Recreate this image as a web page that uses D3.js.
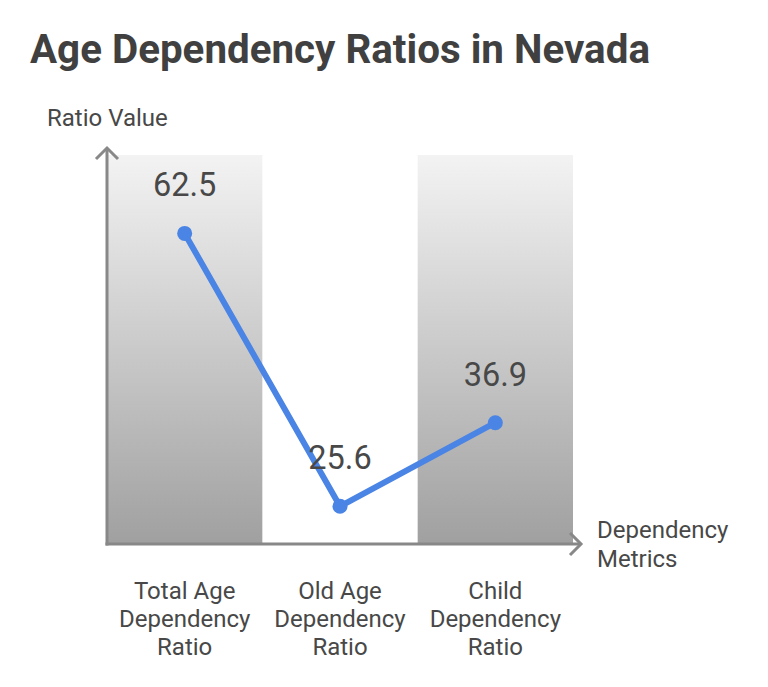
<!DOCTYPE html>
<html>
<head>
<meta charset="utf-8">
<script src="https://cdn.jsdelivr.net/npm/d3@7"></script>
<style>
  body { margin: 0; background: #fff; }
  text { font-family: Roboto, "Noto Sans", sans-serif; fill: #484848; }
</style>
</head>
<body>
<svg id="chart" width="768" height="687"></svg>
<script>
// chart data
var categories = ["Total Age Dependency Ratio", "Old Age Dependency Ratio", "Child Dependency Ratio"];
var categoryLines = [["Total Age", "Dependency", "Ratio"], ["Old Age", "Dependency", "Ratio"], ["Child", "Dependency", "Ratio"]];
var values = [62.5, 25.6, 36.9];
var yDomain = [20.5, 73.1];
var shadedBands = [0, 2];

var svg = d3.select("#chart");

// scales
var x = d3.scaleBand().domain(categories).range([107, 573]).padding(0);
var y = d3.scaleLinear().domain(yDomain).range([544, 155]);

// gradient for the shaded columns
var grad = svg.append("defs").append("linearGradient")
    .attr("id", "bandGrad")
    .attr("x1", 0).attr("y1", 0).attr("x2", 0).attr("y2", 1);
grad.append("stop").attr("offset", "0%").attr("stop-color", "#f3f3f3");
grad.append("stop").attr("offset", "100%").attr("stop-color", "#a0a0a0");

svg.selectAll("rect.band")
    .data(shadedBands)
    .enter()
    .append("rect")
    .attr("class", "band")
    .attr("x", function(d) { return x(categories[d]); })
    .attr("y", y(yDomain[1]))
    .attr("width", x.bandwidth())
    .attr("height", y(yDomain[0]) - y(yDomain[1]))
    .attr("fill", "url(#bandGrad)");

// axes with arrow heads
var axisColor = "#888";
var x0 = x.range()[0], x1 = x.range()[1];
svg.append("line")
    .attr("x1", x0).attr("y1", y(yDomain[0]) + 1.5)
    .attr("x2", x0).attr("y2", 148)
    .attr("stroke", axisColor).attr("stroke-width", 3);
svg.append("path")
    .attr("d", "M" + (x0 - 11) + "," + 159 + "L" + x0 + "," + 148 + "L" + (x0 + 11) + "," + 159)
    .attr("fill", "none").attr("stroke", axisColor).attr("stroke-width", 3);
svg.append("line")
    .attr("x1", x0 - 1.5).attr("y1", y(yDomain[0]))
    .attr("x2", x1 + 8).attr("y2", y(yDomain[0]))
    .attr("stroke", axisColor).attr("stroke-width", 3);
svg.append("path")
    .attr("d", "M" + (x1 - 3) + "," + (y(yDomain[0]) - 11) + "L" + (x1 + 8) + "," + y(yDomain[0]) + "L" + (x1 - 3) + "," + (y(yDomain[0]) + 11))
    .attr("fill", "none").attr("stroke", axisColor).attr("stroke-width", 3);

// the line and points
var line = d3.line()
    .x(function(d, i) { return x(categories[i]) + x.bandwidth() / 2; })
    .y(function(d) { return y(d); });

svg.append("path")
    .datum(values)
    .attr("d", line)
    .attr("fill", "none")
    .attr("stroke", "#4a84e4")
    .attr("stroke-width", 6)
    .attr("stroke-linejoin", "round");

svg.selectAll("circle.pt")
    .data(values)
    .enter()
    .append("circle")
    .attr("class", "pt")
    .attr("cx", function(d, i) { return x(categories[i]) + x.bandwidth() / 2; })
    .attr("cy", function(d) { return y(d); })
    .attr("r", 7.5)
    .attr("fill", "#4a84e4");

// value labels
svg.selectAll("text.val")
    .data(values)
    .enter()
    .append("text")
    .attr("class", "val")
    .attr("x", function(d, i) { return x(categories[i]) + x.bandwidth() / 2; })
    .attr("y", function(d) { return y(d) - 37; })
    .attr("text-anchor", "middle")
    .style("font-size", "32.5px")
    .text(function(d) { return d; });

// category labels
var catLabels = svg.selectAll("text.cat")
    .data(categoryLines)
    .enter()
    .append("text")
    .attr("class", "cat")
    .attr("text-anchor", "middle")
    .style("font-size", "24px");
catLabels.selectAll("tspan")
    .data(function(d, i) { return d.map(function(t) { return {t: t, i: i}; }); })
    .enter()
    .append("tspan")
    .attr("x", function(d) { return x(categories[d.i]) + x.bandwidth() / 2; })
    .attr("y", function(d, j) { return 598.5 + j * 28.3; })
    .text(function(d) { return d.t; });

// axis titles
svg.append("text")
    .attr("x", 47).attr("y", 126)
    .style("font-size", "24px")
    .text("Ratio Value");

var xTitle = svg.append("text").style("font-size", "24px");
xTitle.append("tspan").attr("x", 597).attr("y", 538).text("Dependency");
xTitle.append("tspan").attr("x", 597).attr("y", 566.5).text("Metrics");

// chart title
svg.append("text")
    .attr("x", 30).attr("y", 63)
    .style("font-size", "41px")
    .style("font-weight", "bold")
    .style("fill", "#404040")
    .attr("textLength", 620)
    .attr("lengthAdjust", "spacingAndGlyphs")
    .text("Age Dependency Ratios in Nevada");
</script>
</body>
</html>
